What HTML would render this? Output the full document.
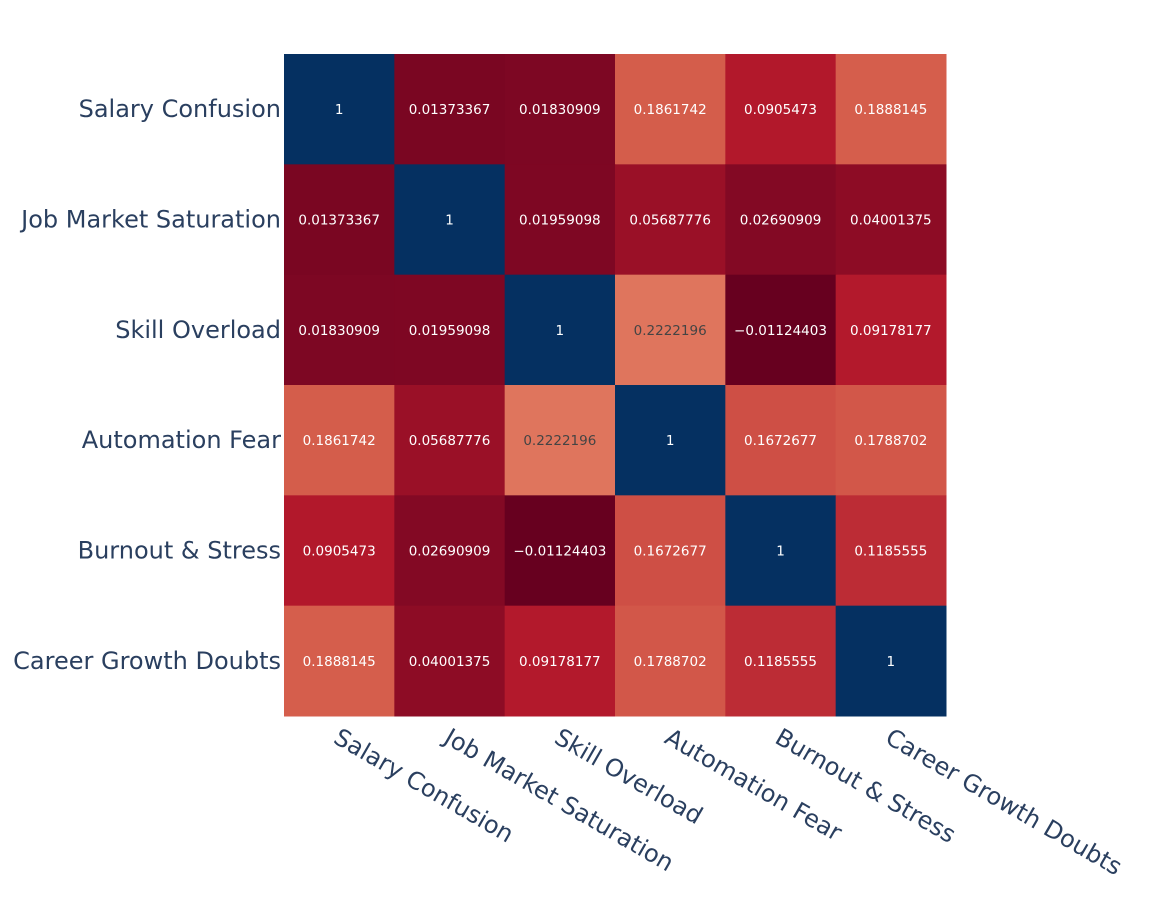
<!DOCTYPE html>
<html><head><meta charset="utf-8">
<style>
html,body{margin:0;padding:0;background:#fff;}
svg{display:block;font-family:"DejaVu Sans","Liberation Sans",sans-serif;}
</style></head>
<body>
<svg id="chart" width="1154" height="898"></svg>
<script>
const labels = ["Salary Confusion","Job Market Saturation","Skill Overload","Automation Fear","Burnout & Stress","Career Growth Doubts"];
const row0 = [1,0.01373367,0.01830909,0.1861742,0.0905473,0.1888145];
const row1 = [0.01373367,1,0.01959098,0.05687776,0.02690909,0.04001375];
const row2 = [0.01830909,0.01959098,1,0.2222196,-0.01124403,0.09178177];
const row3 = [0.1861742,0.05687776,0.2222196,1,0.1672677,0.1788702];
const row4 = [0.0905473,0.02690909,-0.01124403,0.1672677,1,0.1185555];
const row5 = [0.1888145,0.04001375,0.09178177,0.1788702,0.1185555,1];
const matrix = [row0,row1,row2,row3,row4,row5];

const NS="http://www.w3.org/2000/svg";
const svg=document.getElementById('chart');
const x0=284,x1=946,y0=54,y1=716;
const n=labels.length;
const cw=(x1-x0)/n, ch=(y1-y0)/n;
const xPos=i=>x0+i*cw, yPos=j=>y0+j*ch;
const stops=[[103,0,31],[178,24,43],[214,96,77],[244,165,130],[253,219,199],[247,247,247],[209,229,240],[146,197,222],[67,147,195],[33,102,172],[5,48,97]];
const all=matrix.flat();
const vmin=Math.min(...all), vmax=Math.max(...all);
function color(v){
  let t=(v-vmin)/(vmax-vmin);t=Math.max(0,Math.min(1,t));
  const p=t*(stops.length-1);const i=Math.min(Math.floor(p),stops.length-2);const f=p-i;
  return stops[i].map((c,k)=>Math.round(c+(stops[i+1][k]-c)*f));
}
function fmt(v){const s=String(v);return v<0?'\u2212'+s.slice(1):s;}
function mk(tag,attrs){const e=document.createElementNS(NS,tag);for(const k in attrs)e.setAttribute(k,attrs[k]);return e;}

matrix.forEach((row,j)=>{
  row.forEach((v,i)=>{
    const c=color(v);
    const r=mk('rect',{x:xPos(i),y:yPos(j),width:cw+0.5,height:ch+0.5,fill:`rgb(${c.join(',')})`});
    
    
    svg.appendChild(r);
    const lum=0.299*c[0]+0.587*c[1]+0.114*c[2];
    const t=mk('text',{x:xPos(i)+cw/2,y:yPos(j)+ch/2+5,'text-anchor':'middle','font-size':'13.5',fill:lum>135?'#444':'#fff'});
    
    
    t.textContent=fmt(v);
    svg.appendChild(t);
  });
});
labels.forEach((l,j)=>{
  const t=mk('text',{x:281,y:yPos(j)+ch/2+8,'text-anchor':'end','font-size':'24','textLength':'', fill:'#2a3f5f'});
  t.removeAttribute('textLength');
  
  
  t.textContent=l;svg.appendChild(t);
});
labels.forEach((l,i)=>{
  const cx=xPos(i)+cw/2-7, cy=y1+26;
  const t=mk('text',{x:cx,y:cy,'text-anchor':'start','font-size':'24',fill:'#2a3f5f',transform:`rotate(30 ${cx} ${cy})`});
  
  
  t.textContent=l;svg.appendChild(t);
});
</script>
</body></html>
